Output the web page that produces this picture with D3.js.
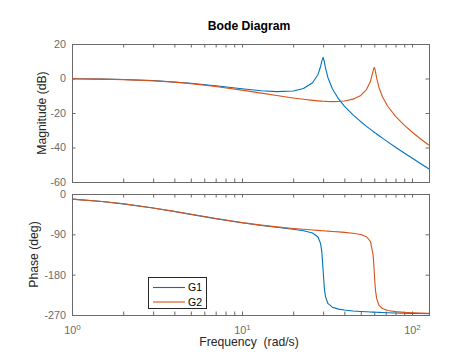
<!DOCTYPE html>
<html><head><meta charset="utf-8">
<script src="https://cdn.jsdelivr.net/npm/d3@7"></script>
<style>
body{margin:0;background:#fff}
svg{display:block;font-family:"Liberation Sans",Arial,Helvetica,sans-serif}
</style>
</head><body>
<svg id="chart" width="474" height="355"></svg>
<script>
// frequency samples (rad/s)
const freq = [1,1.5,2,3,4,5,7,10,13,16,20,23,26,28,29,29.5,30,30.5,31,32,34,37,40,45,50,54,57,59,59.5,60,60.5,61,62,64,67,72,80,90,100,112,126];
// magnitude (dB)
const g1Mag = [-0.160,-0.352,-0.606,-1.248,-1.992,-2.765,-4.227,-5.967,-7.093,-7.601,-7.208,-5.783,-2.482,2.346,6.975,10.244,12.277,9.731,6.046,0.591,-5.932,-11.840,-15.966,-21.086,-25.047,-27.714,-29.507,-30.623,-30.892,-31.160,-31.422,-31.682,-32.193,-33.181,-34.583,-36.742,-39.823,-43.182,-46.128,-49.252,-52.459];
const g2Mag = [-0.168,-0.369,-0.635,-1.313,-2.109,-2.949,-4.594,-6.745,-8.481,-9.867,-11.281,-12.075,-12.672,-12.969,-13.088,-13.139,-13.186,-13.228,-13.265,-13.325,-13.384,-13.314,-13.033,-11.978,-9.796,-6.433,-1.565,4.315,5.790,6.345,5.511,3.797,0.109,-5.352,-10.558,-16.108,-21.936,-27.067,-31.035,-34.923,-38.693];
// phase (deg)
const g1Phase = [-11.39,-16.82,-21.95,-31.19,-38.97,-45.39,-55.03,-64.29,-70.18,-74.36,-78.71,-82.00,-87.04,-96.03,-110.75,-130.34,-170.54,-210.27,-229.47,-243.91,-252.57,-256.89,-258.95,-260.91,-262.14,-262.87,-263.32,-263.59,-263.65,-263.71,-263.77,-263.81,-263.94,-264.15,-264.45,-264.87,-265.42,-265.96,-266.38,-266.78,-267.15];
const g2Phase = [-11.35,-16.76,-21.88,-31.08,-38.81,-45.19,-54.73,-63.82,-69.48,-73.31,-76.82,-78.77,-80.33,-81.25,-81.67,-81.87,-82.07,-82.26,-82.46,-82.83,-83.54,-84.58,-85.62,-87.58,-90.52,-95.44,-106.28,-135.12,-152.49,-175.24,-197.82,-214.89,-234.02,-248.32,-255.48,-259.80,-262.50,-264.07,-264.99,-265.72,-266.32];

const seriesNames = ["G1","G2"];
const seriesColors = ["#0072BD","#D95319"];
const magTicks = [20,0,-20,-40,-60];
const phaseTicks = [0,-90,-180,-270];
const freqMajor = [1,10,100];
const freqMinor = [2,3,4,5,6,7,8,9,20,30,40,50,60,70,80,90];

const svg = d3.select("#chart");
const L = 72, R = 429;
const x = d3.scaleLog().domain([1, Math.pow(10,2.1)]).range([L, R]);
const yMag = d3.scaleLinear().domain([-60,20]).range([182,44]);
const yPh = d3.scaleLinear().domain([-270,0]).range([315,194]);

const axisCol = "#6a6a6a";
const tickLen = 3.5;

svg.append("defs").html(
  `<clipPath id="cm"><rect x="${L}" y="44" width="${R-L}" height="138"/></clipPath>
   <clipPath id="cp"><rect x="${L}" y="194" width="${R-L}" height="121"/></clipPath>`);

function panel(y, ticks, clipId, series, showX){
  const top = y.range()[1], bot = y.range()[0];
  const g = svg.append("g");
  g.append("rect").attr("x",L).attr("y",top).attr("width",R-L).attr("height",bot-top)
    .attr("fill","#fff").attr("stroke",axisCol).attr("stroke-width",1).attr("shape-rendering","crispEdges");
  const la = g.append("g").attr("transform",`translate(${L},0)`)
    .call(d3.axisLeft(y).tickValues(ticks).tickSizeInner(-tickLen).tickSizeOuter(0).tickPadding(6)
      .tickFormat(d=>String(d)));
  const ra = g.append("g").attr("transform",`translate(${R},0)`)
    .call(d3.axisRight(y).tickValues(ticks).tickSizeInner(-tickLen).tickSizeOuter(0).tickFormat(""));
  const allX = freqMajor.concat(freqMinor);
  const ta = g.append("g").attr("transform",`translate(0,${top})`)
    .call(d3.axisTop(x).tickValues(allX).tickSizeInner(-tickLen).tickSizeOuter(0).tickFormat(""));
  const ba = g.append("g").attr("transform",`translate(0,${bot})`)
    .call(d3.axisBottom(x).tickValues(allX).tickSizeInner(-tickLen).tickSizeOuter(0).tickPadding(11).tickFormat(""));
  [la,ra,ta,ba].forEach(a=>{
    a.select(".domain").remove();
    a.selectAll(".tick line").attr("stroke",axisCol);
    a.selectAll("text").attr("fill",axisCol).style("font-size","10.8px").attr("font-family",null);
  });
  if(showX){
    ba.selectAll(".tick text").each(function(d){
      if(freqMajor.indexOf(d) < 0) return;
      const t = d3.select(this);
      t.text(null);
      t.append("tspan").text("10");
      t.append("tspan").attr("dy","-0.45em").style("font-size","8px").text(Math.round(Math.log10(d)));
    });
  }
  const line = d3.line().x((d,i)=>x(freq[i])).y(d=>y(d));
  series.forEach((s,k)=>{
    g.append("path").datum(s).attr("clip-path",`url(#${clipId})`)
      .attr("fill","none").attr("stroke",seriesColors[k]).attr("stroke-width",1.1)
      .attr("stroke-linejoin","round").attr("d",line);
  });
}

panel(yMag, magTicks, "cm", [g1Mag,g2Mag], false);
panel(yPh, phaseTicks, "cp", [g1Phase,g2Phase], true);

// title & labels
svg.append("text").attr("x",249).attr("y",30).attr("text-anchor","middle")
  .style("font-size","12.2px").style("font-weight","bold").attr("fill","#000").text("Bode Diagram");
svg.append("text").attr("x",249).attr("y",346).attr("text-anchor","middle")
  .style("font-size","12.2px").style("white-space","pre").attr("fill","#262626").text("Frequency  (rad/s)");
svg.append("text").attr("transform","translate(46,113) rotate(-90)").attr("text-anchor","middle")
  .style("font-size","12.2px").attr("fill","#262626").text("Magnitude (dB)");
svg.append("text").attr("transform","translate(38,254.5) rotate(-90)").attr("text-anchor","middle")
  .style("font-size","12.2px").attr("fill","#262626").text("Phase (deg)");

// legend
const lg = svg.append("g");
lg.append("rect").attr("x",148.5).attr("y",277.5).attr("width",58).attr("height",31)
  .attr("fill","#fff").attr("stroke","#262626").attr("stroke-width",1);
seriesNames.forEach((n,k)=>{
  const yy = 287.5 + k*14.5;
  lg.append("line").attr("x1",153).attr("x2",185).attr("y1",yy).attr("y2",yy)
    .attr("stroke",seriesColors[k]).attr("stroke-width",1.1);
  lg.append("text").attr("x",188).attr("y",yy+3.8).style("font-size","10.5px").attr("fill","#000").text(n);
});
</script>
</body></html>
